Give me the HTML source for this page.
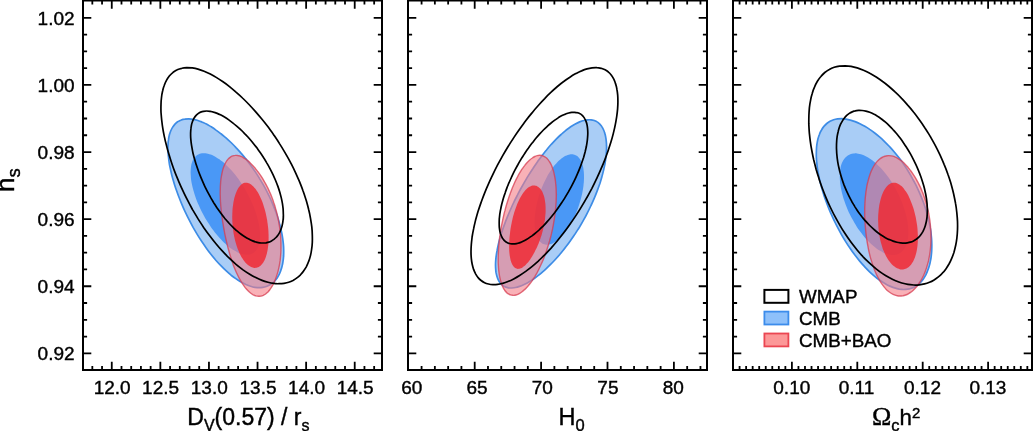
<!DOCTYPE html><html><head><meta charset="utf-8"><style>html,body{margin:0;padding:0;background:#fff;}svg{display:block;}text{font-family:"Liberation Sans",Arial,Helvetica,sans-serif;fill:#000;stroke:#000;stroke-width:0.4px;}</style></head><body>
<svg width="1033" height="431" viewBox="0 0 1033 431">
<rect width="1033" height="431" fill="#fff"/>
<g>
<path d="M283.57 256.09C283.5 257.9 283.3 259.6 283.0 261.3C282.8 263.0 282.5 264.6 282.1 266.1C281.8 267.6 281.3 269.0 280.8 270.4C280.4 271.8 279.8 273.1 279.2 274.3C278.6 275.5 278.0 276.6 277.3 277.7C276.6 278.8 275.8 279.7 275.0 280.7C274.2 281.6 273.3 282.4 272.4 283.1C271.5 283.9 270.6 284.5 269.5 285.1C268.5 285.7 267.5 286.1 266.3 286.5C265.2 286.9 264.0 287.2 262.8 287.4C261.6 287.6 260.3 287.7 259.0 287.7C257.7 287.7 256.3 287.5 254.9 287.3C253.5 287.1 252.0 286.7 250.6 286.2C249.1 285.8 247.5 285.2 245.9 284.5C244.4 283.8 242.8 283.0 241.1 282.1C239.5 281.1 237.8 280.1 236.2 278.9C234.5 277.8 232.8 276.5 231.1 275.2C229.4 273.8 227.7 272.3 226.0 270.7C224.3 269.2 222.6 267.5 220.9 265.7C219.2 264.0 217.5 262.1 215.8 260.2C214.2 258.3 212.5 256.3 210.9 254.2C209.3 252.2 207.7 250.1 206.2 247.9C204.6 245.7 203.1 243.5 201.6 241.3C200.1 239.0 198.6 236.7 197.2 234.4C195.8 232.1 194.5 229.7 193.1 227.4C191.8 225.0 190.5 222.6 189.3 220.2C188.1 217.8 186.9 215.4 185.7 213.0C184.6 210.6 183.5 208.2 182.5 205.8C181.4 203.4 180.4 200.9 179.5 198.5C178.5 196.1 177.6 193.7 176.8 191.3C175.9 188.9 175.1 186.5 174.4 184.2C173.6 181.8 173.0 179.4 172.3 177.1C171.7 174.8 171.2 172.5 170.7 170.2C170.2 167.9 169.7 165.7 169.3 163.5C169.0 161.3 168.7 159.1 168.5 157.0C168.2 154.9 168.1 152.8 168.0 150.8C167.9 148.8 167.9 146.9 168.0 145.0C168.1 143.2 168.2 141.4 168.5 139.7C168.7 138.0 169.0 136.3 169.4 134.8C169.8 133.3 170.3 131.8 170.9 130.5C171.5 129.2 172.1 128.0 172.8 126.9C173.6 125.8 174.4 124.8 175.2 123.9C176.1 123.0 177.0 122.2 178.0 121.6C179.1 120.9 180.1 120.4 181.3 120.0C182.4 119.5 183.6 119.2 184.8 119.1C186.1 118.9 187.4 118.8 188.7 118.8C190.0 118.9 191.4 119.0 192.8 119.3C194.2 119.5 195.7 119.9 197.2 120.3C198.7 120.8 200.2 121.3 201.7 121.9C203.2 122.6 204.8 123.3 206.4 124.1C208.0 124.9 209.6 125.9 211.2 126.8C212.8 127.8 214.4 128.9 216.0 130.1C217.7 131.2 219.3 132.4 221.0 133.8C222.7 135.1 224.3 136.5 226.0 137.9C227.7 139.4 229.3 140.9 231.0 142.5C232.7 144.2 234.4 145.8 236.0 147.6C237.7 149.4 239.4 151.2 241.0 153.1C242.7 155.0 244.3 157.0 246.0 159.1C247.6 161.1 249.2 163.2 250.8 165.4C252.4 167.6 254.0 169.8 255.5 172.1C257.0 174.4 258.5 176.7 259.9 179.1C261.4 181.5 262.8 183.9 264.2 186.4C265.5 188.8 266.8 191.3 268.1 193.8C269.3 196.4 270.5 198.9 271.6 201.4C272.7 203.9 273.7 206.5 274.7 209.0C275.7 211.5 276.6 214.0 277.4 216.5C278.2 219.0 279.0 221.5 279.6 223.9C280.3 226.3 280.9 228.7 281.3 231.0C281.8 233.3 282.3 235.6 282.6 237.9C282.9 240.1 283.2 242.2 283.4 244.3C283.6 246.4 283.7 248.5 283.7 250.4C283.7 252.4 283.7 254.3 283.6 256.1Z" fill="#a9cdf6" stroke="#3d8ce6" stroke-width="1.7"/>
<path d="M260.16 235.68C260.2 236.8 260.1 238.0 260.0 239.0C259.9 240.1 259.8 241.1 259.6 242.1C259.5 243.1 259.2 244.0 259.0 244.9C258.7 245.8 258.4 246.6 258.1 247.4C257.7 248.1 257.3 248.9 256.9 249.5C256.5 250.2 256.0 250.8 255.5 251.3C255.0 251.9 254.4 252.3 253.9 252.8C253.3 253.2 252.7 253.5 252.0 253.8C251.4 254.1 250.7 254.4 250.0 254.5C249.3 254.7 248.5 254.8 247.7 254.8C247.0 254.9 246.2 254.8 245.3 254.7C244.5 254.7 243.6 254.5 242.8 254.3C241.9 254.1 241.0 253.8 240.1 253.4C239.2 253.1 238.2 252.7 237.3 252.2C236.3 251.7 235.4 251.2 234.4 250.6C233.4 250.0 232.4 249.4 231.4 248.7C230.4 248.0 229.4 247.2 228.4 246.4C227.4 245.6 226.4 244.7 225.4 243.8C224.4 242.9 223.4 241.9 222.4 240.9C221.4 239.8 220.3 238.8 219.4 237.7C218.4 236.6 217.4 235.4 216.4 234.2C215.4 233.0 214.4 231.8 213.5 230.5C212.5 229.3 211.6 228.0 210.7 226.7C209.8 225.3 208.9 224.0 208.0 222.6C207.1 221.2 206.3 219.8 205.4 218.4C204.6 217.0 203.8 215.6 203.0 214.1C202.3 212.7 201.5 211.2 200.8 209.7C200.1 208.3 199.4 206.8 198.8 205.3C198.1 203.8 197.5 202.3 196.9 200.9C196.3 199.4 195.8 197.9 195.3 196.5C194.8 195.0 194.3 193.5 193.9 192.1C193.5 190.7 193.1 189.2 192.7 187.8C192.4 186.4 192.1 185.1 191.8 183.7C191.5 182.4 191.3 181.0 191.1 179.7C191.0 178.4 190.8 177.2 190.8 175.9C190.7 174.7 190.6 173.5 190.6 172.3C190.6 171.2 190.7 170.1 190.8 169.0C190.8 167.9 191.0 166.9 191.1 165.9C191.3 164.9 191.5 164.0 191.8 163.1C192.1 162.2 192.4 161.4 192.7 160.6C193.1 159.9 193.5 159.2 193.9 158.5C194.3 157.8 194.8 157.2 195.3 156.7C195.8 156.2 196.3 155.7 196.9 155.3C197.5 154.8 198.1 154.5 198.8 154.2C199.4 153.9 200.1 153.7 200.8 153.5C201.5 153.3 202.3 153.2 203.0 153.2C203.8 153.1 204.6 153.2 205.4 153.3C206.3 153.4 207.1 153.5 208.0 153.7C208.9 154.0 209.8 154.2 210.7 154.6C211.6 154.9 212.5 155.3 213.5 155.8C214.4 156.3 215.4 156.8 216.4 157.4C217.4 158.0 218.4 158.6 219.4 159.3C220.3 160.1 221.4 160.8 222.4 161.6C223.4 162.4 224.4 163.3 225.4 164.2C226.4 165.2 227.4 166.1 228.4 167.2C229.4 168.2 230.4 169.2 231.4 170.3C232.4 171.5 233.4 172.6 234.4 173.8C235.4 175.0 236.3 176.2 237.3 177.5C238.2 178.7 239.2 180.0 240.1 181.4C241.0 182.7 241.9 184.0 242.8 185.4C243.6 186.8 244.5 188.2 245.3 189.6C246.2 191.0 247.0 192.5 247.7 193.9C248.5 195.3 249.3 196.8 250.0 198.3C250.7 199.7 251.4 201.2 252.0 202.7C252.7 204.2 253.3 205.7 253.9 207.1C254.4 208.6 255.0 210.1 255.5 211.6C256.0 213.0 256.5 214.5 256.9 215.9C257.3 217.3 257.7 218.8 258.1 220.2C258.4 221.6 258.7 223.0 259.0 224.3C259.2 225.7 259.5 227.0 259.6 228.3C259.8 229.6 259.9 230.9 260.0 232.1C260.1 233.3 260.2 234.5 260.2 235.7Z" fill="rgb(74,152,246)" stroke="none"/>
<path d="M280.95 250.42C280.9 252.3 280.8 254.1 280.6 255.8C280.5 257.6 280.3 259.3 280.1 260.9C279.8 262.5 279.6 264.1 279.3 265.6C279.0 267.2 278.7 268.6 278.3 270.1C278.0 271.5 277.6 272.8 277.2 274.1C276.8 275.4 276.4 276.7 275.9 277.9C275.5 279.1 275.0 280.3 274.5 281.4C274.1 282.5 273.6 283.5 273.0 284.6C272.5 285.6 271.9 286.5 271.4 287.4C270.8 288.3 270.2 289.2 269.6 290.0C269.0 290.8 268.3 291.5 267.7 292.2C267.0 292.8 266.3 293.4 265.6 294.0C264.9 294.5 264.1 294.9 263.4 295.3C262.6 295.6 261.8 295.9 261.0 296.1C260.2 296.2 259.4 296.3 258.5 296.3C257.7 296.3 256.8 296.1 255.9 295.9C255.0 295.6 254.1 295.2 253.2 294.8C252.3 294.3 251.4 293.7 250.5 293.0C249.6 292.3 248.7 291.5 247.8 290.5C246.9 289.6 245.9 288.5 245.0 287.4C244.2 286.3 243.3 285.0 242.4 283.7C241.5 282.4 240.7 280.9 239.9 279.4C239.0 278.0 238.2 276.4 237.5 274.8C236.7 273.1 235.9 271.4 235.2 269.7C234.5 268.0 233.8 266.2 233.1 264.4C232.5 262.5 231.8 260.7 231.2 258.8C230.6 257.0 230.0 255.1 229.5 253.2C228.9 251.3 228.4 249.3 227.9 247.4C227.4 245.5 226.9 243.6 226.5 241.6C226.0 239.7 225.6 237.7 225.2 235.8C224.8 233.9 224.4 231.9 224.1 230.0C223.7 228.0 223.4 226.1 223.1 224.1C222.7 222.1 222.4 220.2 222.2 218.2C221.9 216.2 221.7 214.3 221.4 212.3C221.2 210.3 221.0 208.3 220.8 206.3C220.7 204.4 220.5 202.4 220.4 200.4C220.3 198.4 220.3 196.5 220.2 194.5C220.2 192.6 220.2 190.7 220.3 188.8C220.3 186.9 220.4 185.0 220.6 183.2C220.7 181.4 220.9 179.6 221.1 178.0C221.4 176.3 221.7 174.6 222.0 173.1C222.3 171.5 222.7 170.0 223.1 168.6C223.6 167.2 224.1 165.9 224.6 164.8C225.1 163.6 225.7 162.5 226.3 161.5C226.9 160.5 227.6 159.7 228.3 158.9C228.9 158.2 229.7 157.6 230.4 157.1C231.2 156.5 231.9 156.2 232.7 155.9C233.5 155.6 234.3 155.4 235.2 155.4C236.0 155.3 236.8 155.3 237.7 155.5C238.5 155.6 239.4 155.8 240.3 156.1C241.1 156.5 242.0 156.9 242.8 157.3C243.7 157.8 244.6 158.3 245.4 158.9C246.3 159.5 247.1 160.2 248.0 160.9C248.8 161.6 249.7 162.4 250.5 163.2C251.3 164.0 252.2 164.9 253.0 165.8C253.8 166.7 254.7 167.6 255.5 168.6C256.3 169.6 257.1 170.7 257.9 171.7C258.7 172.8 259.5 173.9 260.4 175.1C261.2 176.3 262.0 177.5 262.8 178.8C263.5 180.1 264.3 181.4 265.1 182.8C265.9 184.2 266.7 185.7 267.4 187.2C268.2 188.7 268.9 190.3 269.6 191.9C270.4 193.6 271.1 195.3 271.8 197.0C272.4 198.8 273.1 200.6 273.7 202.5C274.4 204.3 275.0 206.2 275.5 208.2C276.1 210.1 276.6 212.1 277.1 214.2C277.6 216.2 278.1 218.2 278.5 220.3C278.9 222.3 279.2 224.4 279.5 226.5C279.8 228.6 280.1 230.6 280.3 232.7C280.5 234.7 280.7 236.8 280.8 238.8C280.9 240.8 281.0 242.8 281.0 244.7C281.0 246.7 281.0 248.6 280.9 250.4Z" fill="rgb(245,125,135)" fill-opacity="0.6" stroke="rgba(215,60,80,0.75)" stroke-width="1.4"/>
<path d="M268.61 236.75C268.6 237.9 268.6 239.1 268.6 240.3C268.5 241.4 268.5 242.6 268.4 243.7C268.3 244.8 268.2 245.9 268.0 247.0C267.9 248.0 267.8 249.1 267.6 250.1C267.4 251.1 267.2 252.1 267.0 253.0C266.7 254.0 266.5 254.9 266.2 255.7C266.0 256.6 265.7 257.4 265.4 258.2C265.0 259.0 264.7 259.7 264.4 260.4C264.0 261.1 263.6 261.8 263.3 262.4C262.9 263.0 262.5 263.5 262.1 264.0C261.7 264.5 261.2 265.0 260.8 265.4C260.4 265.8 259.9 266.1 259.4 266.4C259.0 266.7 258.5 267.0 258.0 267.2C257.5 267.4 257.0 267.6 256.5 267.7C256.0 267.8 255.5 267.8 255.0 267.9C254.5 267.9 254.0 267.8 253.5 267.7C253.0 267.6 252.4 267.5 251.9 267.3C251.4 267.1 250.8 266.9 250.3 266.6C249.8 266.3 249.2 266.0 248.7 265.6C248.2 265.2 247.6 264.8 247.1 264.3C246.6 263.8 246.0 263.3 245.5 262.7C245.0 262.1 244.5 261.5 244.0 260.8C243.5 260.1 243.0 259.4 242.5 258.6C242.0 257.8 241.5 257.0 241.0 256.2C240.6 255.3 240.1 254.4 239.6 253.5C239.2 252.5 238.8 251.5 238.4 250.5C237.9 249.5 237.5 248.5 237.2 247.4C236.8 246.3 236.4 245.2 236.1 244.1C235.7 243.0 235.4 241.8 235.1 240.6C234.8 239.5 234.6 238.3 234.3 237.1C234.1 235.9 233.8 234.6 233.6 233.4C233.4 232.2 233.2 231.0 233.1 229.8C232.9 228.5 232.8 227.3 232.7 226.1C232.6 224.9 232.5 223.7 232.4 222.5C232.3 221.3 232.3 220.1 232.3 218.9C232.2 217.7 232.2 216.5 232.3 215.4C232.3 214.2 232.3 213.1 232.4 212.0C232.4 210.8 232.5 209.7 232.6 208.7C232.7 207.6 232.8 206.5 233.0 205.5C233.1 204.5 233.3 203.4 233.4 202.4C233.6 201.5 233.8 200.5 234.0 199.5C234.2 198.6 234.4 197.7 234.7 196.8C234.9 195.9 235.2 195.1 235.5 194.2C235.8 193.4 236.1 192.6 236.4 191.9C236.7 191.1 237.0 190.4 237.4 189.7C237.7 189.0 238.1 188.4 238.5 187.8C238.9 187.2 239.3 186.7 239.7 186.2C240.1 185.7 240.6 185.2 241.0 184.8C241.5 184.4 241.9 184.1 242.4 183.8C242.9 183.5 243.4 183.3 243.9 183.1C244.4 182.9 244.9 182.8 245.4 182.8C246.0 182.7 246.5 182.7 247.0 182.8C247.6 182.9 248.1 183.0 248.7 183.2C249.2 183.4 249.8 183.7 250.3 184.0C250.9 184.4 251.4 184.8 251.9 185.2C252.5 185.6 253.0 186.2 253.6 186.7C254.1 187.3 254.6 187.9 255.2 188.5C255.7 189.2 256.2 189.9 256.7 190.7C257.2 191.4 257.7 192.2 258.2 193.1C258.7 193.9 259.1 194.8 259.6 195.7C260.1 196.6 260.5 197.6 260.9 198.6C261.4 199.6 261.8 200.6 262.2 201.6C262.6 202.6 262.9 203.7 263.3 204.8C263.7 205.9 264.0 207.0 264.3 208.1C264.7 209.2 265.0 210.4 265.3 211.5C265.6 212.7 265.9 213.9 266.1 215.0C266.4 216.2 266.6 217.4 266.8 218.6C267.1 219.8 267.3 221.0 267.4 222.2C267.6 223.4 267.8 224.7 267.9 225.9C268.1 227.1 268.2 228.3 268.3 229.5C268.4 230.7 268.5 232.0 268.5 233.2C268.6 234.4 268.6 235.6 268.6 236.7Z" fill="rgb(240,42,52)" fill-opacity="0.85" stroke="none"/>
<path d="M312.30 242.57C312.2 245.0 312.0 247.3 311.6 249.5C311.3 251.8 310.9 253.9 310.4 255.9C309.9 257.9 309.3 259.8 308.6 261.6C308.0 263.4 307.2 265.0 306.4 266.6C305.5 268.2 304.6 269.6 303.6 271.0C302.7 272.4 301.6 273.6 300.5 274.8C299.4 275.9 298.2 277.0 296.9 277.9C295.7 278.8 294.4 279.6 293.0 280.4C291.6 281.1 290.2 281.7 288.7 282.2C287.2 282.7 285.6 283.0 284.0 283.3C282.4 283.6 280.7 283.7 279.0 283.7C277.3 283.8 275.5 283.7 273.6 283.4C271.8 283.2 269.9 282.8 268.0 282.3C266.0 281.8 264.0 281.2 262.0 280.4C259.9 279.6 257.9 278.7 255.8 277.6C253.6 276.6 251.5 275.4 249.3 274.0C247.1 272.7 244.9 271.2 242.7 269.6C240.5 267.9 238.3 266.2 236.0 264.3C233.8 262.4 231.5 260.4 229.3 258.2C227.1 256.1 224.9 253.8 222.7 251.4C220.5 249.1 218.3 246.6 216.2 244.0C214.0 241.5 211.9 238.8 209.9 236.1C207.8 233.3 205.8 230.5 203.8 227.7C201.9 224.8 200.0 221.9 198.1 218.9C196.3 215.9 194.5 212.9 192.7 209.9C191.0 206.8 189.3 203.8 187.8 200.7C186.2 197.6 184.6 194.5 183.2 191.4C181.7 188.3 180.3 185.2 179.0 182.1C177.7 179.0 176.4 175.9 175.2 172.9C174.0 169.8 172.9 166.7 171.9 163.7C170.8 160.6 169.9 157.6 169.0 154.6C168.1 151.6 167.2 148.6 166.5 145.6C165.7 142.7 165.0 139.8 164.4 136.9C163.8 134.0 163.2 131.2 162.8 128.4C162.3 125.6 162.0 122.8 161.7 120.1C161.4 117.4 161.2 114.7 161.0 112.2C160.9 109.6 160.9 107.0 161.0 104.6C161.0 102.2 161.2 99.8 161.5 97.5C161.7 95.3 162.1 93.1 162.6 91.0C163.0 89.0 163.6 87.0 164.3 85.2C164.9 83.4 165.7 81.7 166.6 80.1C167.5 78.5 168.5 77.1 169.5 75.8C170.6 74.5 171.8 73.3 173.1 72.3C174.4 71.4 175.7 70.5 177.2 69.8C178.6 69.1 180.2 68.6 181.8 68.3C183.4 67.9 185.1 67.7 186.8 67.6C188.6 67.6 190.4 67.7 192.3 67.9C194.1 68.2 196.1 68.6 198.0 69.1C200.0 69.7 202.0 70.4 204.1 71.2C206.1 72.0 208.2 72.9 210.3 74.0C212.4 75.1 214.5 76.3 216.6 77.6C218.7 78.9 220.9 80.3 223.0 81.8C225.2 83.3 227.4 84.9 229.5 86.6C231.7 88.4 233.9 90.2 236.0 92.1C238.2 94.0 240.4 95.9 242.5 98.0C244.7 100.1 246.8 102.2 249.0 104.5C251.1 106.7 253.2 109.0 255.3 111.4C257.4 113.8 259.5 116.3 261.6 118.8C263.7 121.3 265.8 124.0 267.8 126.6C269.8 129.3 271.8 132.1 273.8 134.9C275.7 137.7 277.7 140.6 279.5 143.6C281.4 146.5 283.2 149.5 285.0 152.6C286.8 155.6 288.5 158.7 290.2 161.8C291.8 165.0 293.4 168.1 294.9 171.3C296.4 174.5 297.8 177.7 299.2 180.9C300.5 184.1 301.8 187.3 302.9 190.5C304.1 193.7 305.1 196.9 306.1 200.0C307.0 203.2 307.9 206.3 308.6 209.3C309.4 212.4 310.0 215.4 310.5 218.3C311.0 221.2 311.5 224.1 311.8 226.9C312.1 229.7 312.3 232.4 312.3 235.0C312.4 237.6 312.4 240.2 312.3 242.6Z" fill="none" stroke="#000" stroke-width="1.7"/>
<path d="M283.26 218.06C283.2 219.5 283.0 220.9 282.8 222.2C282.6 223.6 282.3 224.8 282.0 226.1C281.7 227.3 281.3 228.4 280.9 229.5C280.5 230.6 280.1 231.6 279.6 232.5C279.0 233.5 278.5 234.4 277.9 235.2C277.3 236.0 276.7 236.8 276.0 237.5C275.3 238.2 274.6 238.8 273.9 239.4C273.1 240.0 272.3 240.5 271.5 240.9C270.6 241.4 269.8 241.8 268.9 242.1C268.0 242.4 267.0 242.6 266.0 242.8C265.0 242.9 264.0 243.0 263.0 243.0C261.9 243.0 260.8 243.0 259.7 242.8C258.6 242.7 257.4 242.4 256.2 242.1C255.0 241.8 253.8 241.4 252.6 240.9C251.3 240.4 250.0 239.8 248.8 239.1C247.5 238.5 246.1 237.7 244.8 236.8C243.5 236.0 242.1 235.1 240.8 234.0C239.4 233.0 238.1 231.9 236.7 230.7C235.4 229.5 234.0 228.3 232.6 226.9C231.3 225.6 229.9 224.2 228.6 222.7C227.3 221.3 226.0 219.7 224.7 218.2C223.4 216.6 222.1 215.0 220.9 213.3C219.7 211.6 218.5 209.9 217.3 208.2C216.1 206.4 215.0 204.6 213.8 202.9C212.7 201.1 211.7 199.2 210.6 197.4C209.6 195.6 208.6 193.7 207.6 191.9C206.6 190.0 205.7 188.1 204.8 186.3C203.9 184.4 203.1 182.5 202.3 180.7C201.5 178.8 200.7 176.9 200.0 175.1C199.2 173.2 198.5 171.4 197.9 169.5C197.2 167.7 196.6 165.8 196.0 164.0C195.4 162.2 194.9 160.4 194.4 158.6C193.9 156.7 193.4 155.0 193.0 153.2C192.6 151.4 192.3 149.7 192.0 147.9C191.7 146.2 191.4 144.5 191.2 142.8C191.0 141.2 190.8 139.5 190.7 137.9C190.6 136.3 190.6 134.8 190.6 133.2C190.7 131.7 190.7 130.3 190.9 128.9C191.0 127.5 191.3 126.2 191.5 124.9C191.8 123.6 192.2 122.4 192.6 121.3C193.0 120.2 193.5 119.2 194.0 118.2C194.6 117.3 195.2 116.4 195.9 115.6C196.5 114.9 197.3 114.2 198.1 113.6C198.9 113.0 199.7 112.5 200.6 112.1C201.5 111.8 202.5 111.5 203.5 111.3C204.5 111.1 205.5 111.0 206.6 111.0C207.7 111.0 208.8 111.1 210.0 111.3C211.1 111.5 212.3 111.7 213.5 112.1C214.7 112.4 216.0 112.9 217.2 113.4C218.4 113.9 219.7 114.5 221.0 115.1C222.3 115.8 223.6 116.5 224.9 117.3C226.2 118.1 227.5 119.0 228.8 119.9C230.1 120.8 231.4 121.8 232.7 122.8C234.1 123.9 235.4 125.0 236.7 126.1C238.0 127.2 239.4 128.4 240.7 129.7C242.0 130.9 243.3 132.2 244.6 133.6C246.0 134.9 247.3 136.4 248.6 137.8C249.9 139.3 251.2 140.8 252.4 142.3C253.7 143.9 255.0 145.5 256.3 147.1C257.5 148.8 258.8 150.5 260.0 152.2C261.2 153.9 262.4 155.7 263.5 157.5C264.7 159.3 265.8 161.2 266.9 163.1C268.0 164.9 269.1 166.9 270.1 168.8C271.1 170.7 272.1 172.7 273.0 174.6C273.9 176.6 274.8 178.6 275.6 180.5C276.4 182.5 277.2 184.5 277.9 186.4C278.6 188.4 279.2 190.3 279.8 192.3C280.3 194.2 280.8 196.1 281.3 197.9C281.7 199.8 282.1 201.6 282.4 203.4C282.7 205.2 282.9 206.9 283.1 208.6C283.2 210.3 283.3 211.9 283.3 213.5C283.4 215.1 283.4 216.6 283.3 218.1Z" fill="none" stroke="#000" stroke-width="1.7"/>
</g>
<g>
<path d="M606.56 146.58C606.6 148.3 606.5 150.1 606.4 151.9C606.3 153.8 606.1 155.7 605.9 157.6C605.6 159.6 605.3 161.6 605.0 163.7C604.6 165.8 604.1 167.9 603.6 170.1C603.1 172.3 602.5 174.5 601.9 176.8C601.3 179.1 600.5 181.4 599.8 183.8C599.0 186.1 598.1 188.5 597.2 190.9C596.3 193.3 595.4 195.7 594.3 198.2C593.3 200.6 592.2 203.1 591.0 205.5C589.9 207.9 588.7 210.4 587.4 212.8C586.2 215.3 584.9 217.7 583.5 220.1C582.2 222.5 580.8 224.9 579.4 227.2C577.9 229.5 576.5 231.8 575.0 234.1C573.5 236.3 572.0 238.6 570.4 240.7C568.9 242.9 567.3 245.0 565.7 247.0C564.2 249.1 562.6 251.1 561.0 253.0C559.4 254.9 557.8 256.8 556.2 258.5C554.6 260.3 552.9 262.0 551.3 263.7C549.7 265.3 548.1 266.9 546.5 268.4C544.9 269.9 543.3 271.3 541.8 272.6C540.2 274.0 538.6 275.2 537.1 276.4C535.5 277.6 534.0 278.7 532.5 279.7C530.9 280.7 529.4 281.7 528.0 282.5C526.5 283.3 525.1 284.1 523.6 284.7C522.2 285.4 520.8 286.0 519.5 286.4C518.1 286.9 516.8 287.3 515.5 287.5C514.2 287.8 513.0 287.9 511.8 288.0C510.6 288.0 509.5 288.0 508.4 287.8C507.3 287.6 506.3 287.3 505.3 286.9C504.3 286.5 503.4 286.0 502.6 285.4C501.7 284.8 501.0 284.0 500.3 283.1C499.6 282.3 498.9 281.3 498.4 280.2C497.8 279.1 497.4 277.9 497.0 276.6C496.6 275.3 496.3 273.9 496.0 272.4C495.8 270.9 495.7 269.3 495.6 267.6C495.5 265.9 495.5 264.2 495.6 262.3C495.7 260.5 495.9 258.6 496.1 256.6C496.4 254.6 496.7 252.6 497.1 250.5C497.4 248.5 497.9 246.3 498.4 244.1C498.9 242.0 499.5 239.8 500.2 237.5C500.8 235.3 501.5 233.0 502.3 230.8C503.0 228.5 503.8 226.2 504.7 223.9C505.5 221.6 506.4 219.3 507.4 216.9C508.3 214.6 509.3 212.3 510.3 210.0C511.4 207.6 512.4 205.3 513.5 203.0C514.6 200.6 515.8 198.3 517.0 196.0C518.1 193.7 519.4 191.3 520.6 189.0C521.9 186.7 523.2 184.4 524.5 182.1C525.8 179.9 527.1 177.6 528.5 175.4C529.9 173.1 531.3 170.9 532.8 168.7C534.2 166.5 535.7 164.3 537.2 162.2C538.7 160.1 540.3 158.0 541.8 155.9C543.4 153.9 544.9 151.9 546.5 150.0C548.1 148.0 549.7 146.1 551.3 144.3C553.0 142.5 554.6 140.8 556.2 139.1C557.8 137.5 559.5 135.9 561.1 134.5C562.7 133.0 564.3 131.6 565.9 130.3C567.5 129.1 569.1 127.9 570.7 126.8C572.2 125.8 573.8 124.8 575.3 124.0C576.8 123.2 578.2 122.5 579.6 121.9C581.1 121.3 582.5 120.8 583.8 120.5C585.1 120.1 586.4 119.9 587.6 119.8C588.9 119.7 590.0 119.7 591.1 119.8C592.3 119.9 593.3 120.2 594.3 120.5C595.3 120.9 596.3 121.3 597.2 121.9C598.0 122.4 598.8 123.1 599.6 123.8C600.4 124.6 601.1 125.4 601.7 126.4C602.3 127.3 602.9 128.4 603.4 129.5C603.9 130.6 604.4 131.8 604.7 133.1C605.1 134.3 605.5 135.7 605.7 137.1C606.0 138.6 606.2 140.1 606.3 141.6C606.5 143.2 606.5 144.9 606.6 146.6Z" fill="#a9cdf6" stroke="#3d8ce6" stroke-width="1.7"/>
<path d="M584.01 176.89C584.0 178.0 584.0 179.2 583.9 180.4C583.9 181.6 583.8 182.8 583.6 184.0C583.5 185.3 583.4 186.5 583.2 187.8C583.0 189.1 582.8 190.4 582.5 191.7C582.3 193.0 582.0 194.3 581.7 195.6C581.4 196.9 581.1 198.2 580.7 199.5C580.3 200.8 579.9 202.2 579.5 203.5C579.1 204.8 578.7 206.1 578.2 207.4C577.8 208.7 577.3 210.0 576.8 211.2C576.3 212.5 575.7 213.8 575.2 215.0C574.6 216.2 574.0 217.5 573.5 218.6C572.9 219.8 572.3 221.0 571.6 222.2C571.0 223.3 570.4 224.4 569.7 225.5C569.1 226.6 568.4 227.6 567.7 228.6C567.1 229.6 566.4 230.6 565.7 231.5C565.0 232.5 564.3 233.3 563.6 234.2C562.9 235.0 562.1 235.8 561.4 236.6C560.7 237.3 560.0 238.1 559.3 238.7C558.6 239.4 557.8 240.0 557.1 240.5C556.4 241.1 555.7 241.6 555.0 242.1C554.3 242.5 553.6 242.9 552.9 243.2C552.2 243.6 551.5 243.9 550.8 244.1C550.1 244.3 549.5 244.5 548.8 244.6C548.2 244.7 547.5 244.8 546.9 244.8C546.3 244.8 545.7 244.7 545.1 244.6C544.5 244.5 543.9 244.3 543.4 244.1C542.8 243.9 542.3 243.6 541.8 243.2C541.3 242.9 540.8 242.5 540.3 242.1C539.9 241.6 539.4 241.1 539.0 240.5C538.6 240.0 538.2 239.4 537.8 238.7C537.5 238.1 537.2 237.3 536.8 236.6C536.5 235.8 536.3 235.0 536.0 234.2C535.8 233.3 535.6 232.5 535.4 231.5C535.2 230.6 535.0 229.6 534.9 228.6C534.8 227.6 534.7 226.6 534.6 225.5C534.6 224.4 534.5 223.3 534.5 222.2C534.5 221.0 534.6 219.8 534.6 218.6C534.7 217.5 534.8 216.2 534.9 215.0C535.0 213.8 535.2 212.5 535.4 211.2C535.6 210.0 535.8 208.7 536.0 207.4C536.3 206.1 536.5 204.8 536.8 203.5C537.2 202.2 537.5 200.8 537.8 199.5C538.2 198.2 538.6 196.9 539.0 195.6C539.4 194.3 539.9 193.0 540.3 191.7C540.8 190.4 541.3 189.1 541.8 187.8C542.3 186.5 542.8 185.3 543.4 184.0C543.9 182.8 544.5 181.6 545.1 180.4C545.7 179.2 546.3 178.0 546.9 176.9C547.5 175.8 548.2 174.6 548.8 173.6C549.5 172.5 550.1 171.4 550.8 170.4C551.5 169.4 552.2 168.4 552.9 167.5C553.6 166.6 554.3 165.7 555.0 164.8C555.7 164.0 556.4 163.2 557.1 162.4C557.8 161.7 558.6 161.0 559.3 160.3C560.0 159.7 560.7 159.1 561.4 158.5C562.1 157.9 562.9 157.4 563.6 157.0C564.3 156.5 565.0 156.1 565.7 155.8C566.4 155.5 567.1 155.2 567.7 154.9C568.4 154.7 569.1 154.5 569.7 154.4C570.4 154.3 571.0 154.3 571.6 154.3C572.3 154.3 572.9 154.3 573.5 154.4C574.0 154.5 574.6 154.7 575.2 154.9C575.7 155.2 576.3 155.5 576.8 155.8C577.3 156.1 577.8 156.5 578.2 157.0C578.7 157.4 579.1 157.9 579.5 158.5C579.9 159.1 580.3 159.7 580.7 160.3C581.1 161.0 581.4 161.7 581.7 162.4C582.0 163.2 582.3 164.0 582.5 164.8C582.8 165.7 583.0 166.6 583.2 167.5C583.4 168.4 583.5 169.4 583.6 170.4C583.8 171.4 583.9 172.5 583.9 173.6C584.0 174.6 584.0 175.8 584.0 176.9Z" fill="rgb(74,152,246)" stroke="none"/>
<path d="M556.26 193.47C556.3 195.2 556.3 197.1 556.2 198.9C556.2 200.8 556.1 202.7 555.9 204.6C555.8 206.6 555.6 208.5 555.4 210.5C555.2 212.5 555.0 214.5 554.7 216.5C554.4 218.5 554.1 220.6 553.7 222.6C553.4 224.7 553.0 226.7 552.6 228.7C552.1 230.8 551.7 232.8 551.2 234.8C550.7 236.9 550.1 238.9 549.6 240.9C549.0 242.8 548.5 244.8 547.8 246.7C547.2 248.7 546.6 250.6 545.9 252.4C545.3 254.3 544.6 256.1 543.9 257.9C543.2 259.7 542.5 261.4 541.7 263.1C541.0 264.8 540.2 266.4 539.4 268.0C538.7 269.6 537.9 271.1 537.1 272.6C536.3 274.0 535.5 275.4 534.7 276.8C533.8 278.1 533.0 279.4 532.2 280.6C531.4 281.8 530.5 283.0 529.7 284.0C528.8 285.1 528.0 286.1 527.2 287.1C526.3 288.0 525.5 288.9 524.6 289.6C523.8 290.4 523.0 291.1 522.1 291.8C521.3 292.4 520.5 293.0 519.7 293.4C518.8 293.9 518.0 294.3 517.2 294.6C516.4 294.9 515.6 295.1 514.9 295.2C514.1 295.3 513.3 295.4 512.6 295.3C511.8 295.3 511.1 295.1 510.4 294.9C509.7 294.7 509.0 294.3 508.4 293.9C507.7 293.5 507.1 293.0 506.5 292.4C505.8 291.8 505.3 291.1 504.7 290.3C504.2 289.5 503.6 288.7 503.2 287.7C502.7 286.8 502.2 285.7 501.8 284.6C501.4 283.5 501.0 282.3 500.7 281.0C500.3 279.8 500.0 278.4 499.7 277.0C499.4 275.6 499.2 274.1 499.0 272.6C498.8 271.1 498.6 269.5 498.5 267.8C498.4 266.2 498.3 264.5 498.2 262.8C498.2 261.0 498.2 259.2 498.2 257.4C498.2 255.6 498.3 253.8 498.4 251.9C498.5 250.0 498.6 248.1 498.7 246.2C498.9 244.3 499.1 242.3 499.3 240.3C499.5 238.4 499.8 236.4 500.1 234.4C500.4 232.4 500.7 230.4 501.0 228.4C501.4 226.4 501.8 224.4 502.2 222.4C502.6 220.4 503.0 218.3 503.5 216.3C503.9 214.3 504.4 212.3 505.0 210.4C505.5 208.4 506.0 206.4 506.6 204.5C507.2 202.5 507.8 200.6 508.4 198.7C509.1 196.8 509.7 194.9 510.4 193.0C511.1 191.2 511.8 189.4 512.5 187.6C513.2 185.9 514.0 184.2 514.7 182.5C515.5 180.8 516.3 179.2 517.1 177.7C517.9 176.1 518.7 174.6 519.5 173.2C520.3 171.8 521.2 170.5 522.0 169.2C522.9 167.9 523.7 166.7 524.6 165.6C525.4 164.5 526.3 163.5 527.2 162.5C528.0 161.6 528.9 160.7 529.7 160.0C530.6 159.2 531.5 158.5 532.3 158.0C533.1 157.4 534.0 156.9 534.8 156.5C535.6 156.1 536.4 155.8 537.2 155.6C538.0 155.4 538.8 155.3 539.6 155.3C540.3 155.3 541.1 155.4 541.8 155.5C542.5 155.7 543.2 155.9 543.9 156.3C544.6 156.6 545.2 157.0 545.9 157.5C546.5 158.0 547.1 158.6 547.7 159.3C548.3 159.9 548.8 160.7 549.3 161.5C549.9 162.3 550.4 163.2 550.9 164.1C551.3 165.1 551.8 166.1 552.2 167.2C552.6 168.3 553.0 169.5 553.4 170.7C553.7 171.9 554.0 173.2 554.3 174.6C554.6 175.9 554.9 177.3 555.1 178.8C555.4 180.3 555.6 181.8 555.7 183.4C555.9 185.0 556.0 186.6 556.1 188.3C556.2 190.0 556.2 191.7 556.3 193.5Z" fill="rgb(245,125,135)" fill-opacity="0.6" stroke="rgba(215,60,80,0.75)" stroke-width="1.4"/>
<path d="M545.63 208.80C545.6 209.9 545.6 211.0 545.6 212.2C545.5 213.4 545.5 214.5 545.3 215.7C545.2 216.9 545.1 218.2 545.0 219.4C544.8 220.6 544.6 221.8 544.4 223.0C544.2 224.3 544.0 225.5 543.7 226.7C543.4 227.9 543.2 229.1 542.9 230.3C542.6 231.5 542.2 232.7 541.9 233.9C541.6 235.0 541.2 236.2 540.8 237.3C540.5 238.4 540.1 239.5 539.7 240.6C539.3 241.7 538.9 242.7 538.5 243.8C538.0 244.8 537.6 245.8 537.2 246.8C536.7 247.7 536.3 248.7 535.8 249.6C535.4 250.5 534.9 251.4 534.5 252.3C534.0 253.1 533.5 254.0 533.1 254.8C532.6 255.6 532.1 256.4 531.6 257.2C531.1 257.9 530.7 258.7 530.2 259.4C529.7 260.1 529.2 260.8 528.7 261.4C528.2 262.1 527.7 262.7 527.1 263.3C526.6 263.8 526.1 264.4 525.6 264.9C525.1 265.4 524.6 265.9 524.0 266.3C523.5 266.7 523.0 267.1 522.5 267.4C522.0 267.8 521.4 268.0 520.9 268.3C520.4 268.5 519.9 268.7 519.4 268.8C518.9 268.9 518.4 268.9 517.9 268.9C517.4 268.9 517.0 268.8 516.5 268.6C516.1 268.5 515.6 268.3 515.2 268.0C514.8 267.7 514.3 267.4 514.0 267.0C513.6 266.5 513.2 266.1 512.9 265.5C512.5 265.0 512.2 264.4 511.9 263.8C511.6 263.1 511.3 262.4 511.1 261.7C510.8 260.9 510.6 260.1 510.4 259.3C510.2 258.4 510.0 257.5 509.9 256.6C509.7 255.7 509.6 254.7 509.5 253.8C509.4 252.8 509.3 251.8 509.2 250.7C509.2 249.7 509.2 248.6 509.1 247.5C509.1 246.5 509.1 245.4 509.2 244.3C509.2 243.1 509.2 242.0 509.3 240.9C509.4 239.7 509.4 238.6 509.5 237.4C509.6 236.3 509.8 235.1 509.9 233.9C510.0 232.8 510.2 231.6 510.3 230.4C510.5 229.2 510.7 228.0 510.9 226.8C511.1 225.6 511.3 224.4 511.6 223.2C511.8 222.0 512.1 220.8 512.4 219.6C512.6 218.4 512.9 217.2 513.2 216.1C513.6 214.9 513.9 213.7 514.2 212.5C514.6 211.4 515.0 210.2 515.4 209.1C515.7 207.9 516.2 206.8 516.6 205.7C517.0 204.6 517.4 203.5 517.9 202.5C518.4 201.5 518.8 200.5 519.3 199.5C519.8 198.5 520.3 197.6 520.8 196.7C521.3 195.8 521.8 195.0 522.3 194.2C522.9 193.4 523.4 192.7 523.9 192.0C524.5 191.3 525.0 190.6 525.5 190.1C526.1 189.5 526.6 189.0 527.1 188.5C527.7 188.0 528.2 187.6 528.7 187.3C529.3 186.9 529.8 186.6 530.3 186.4C530.8 186.1 531.3 185.9 531.8 185.8C532.3 185.6 532.8 185.5 533.3 185.5C533.8 185.5 534.3 185.5 534.8 185.5C535.2 185.6 535.7 185.7 536.1 185.8C536.6 185.9 537.0 186.1 537.4 186.4C537.8 186.6 538.2 186.9 538.6 187.2C539.0 187.5 539.4 187.8 539.8 188.2C540.2 188.6 540.5 189.0 540.9 189.5C541.2 190.0 541.5 190.5 541.9 191.1C542.2 191.6 542.5 192.2 542.8 192.9C543.1 193.5 543.3 194.2 543.6 194.9C543.8 195.6 544.1 196.4 544.3 197.2C544.5 198.0 544.7 198.9 544.8 199.7C545.0 200.6 545.1 201.6 545.2 202.5C545.4 203.5 545.5 204.5 545.5 205.6C545.6 206.6 545.6 207.7 545.6 208.8Z" fill="rgb(240,42,52)" fill-opacity="0.85" stroke="none"/>
<path d="M617.91 101.81C617.9 104.1 617.8 106.5 617.6 108.9C617.4 111.4 617.1 113.9 616.7 116.6C616.3 119.2 615.9 121.9 615.3 124.6C614.8 127.4 614.1 130.2 613.4 133.1C612.7 135.9 611.9 138.9 611.0 141.8C610.1 144.8 609.1 147.8 608.1 150.8C607.0 153.9 605.9 157.0 604.7 160.1C603.5 163.2 602.2 166.3 600.8 169.4C599.5 172.6 598.0 175.7 596.5 178.9C595.1 182.0 593.5 185.2 591.9 188.3C590.2 191.4 588.6 194.6 586.8 197.7C585.1 200.8 583.3 203.8 581.4 206.9C579.6 209.9 577.7 212.9 575.7 215.9C573.8 218.8 571.8 221.7 569.8 224.5C567.8 227.4 565.8 230.1 563.7 232.8C561.6 235.5 559.5 238.2 557.4 240.7C555.3 243.2 553.2 245.7 551.1 248.1C548.9 250.4 546.8 252.7 544.7 254.9C542.5 257.0 540.4 259.1 538.3 261.1C536.1 263.0 534.0 264.9 531.9 266.6C529.8 268.3 527.7 269.9 525.7 271.4C523.6 272.9 521.6 274.3 519.6 275.5C517.6 276.8 515.6 277.9 513.7 278.9C511.8 279.9 509.9 280.8 508.0 281.5C506.2 282.3 504.4 282.9 502.7 283.3C500.9 283.8 499.2 284.2 497.6 284.4C496.0 284.6 494.4 284.7 492.9 284.6C491.4 284.6 489.9 284.4 488.5 284.0C487.2 283.7 485.8 283.3 484.6 282.7C483.4 282.1 482.2 281.4 481.1 280.5C480.0 279.7 479.0 278.7 478.1 277.6C477.2 276.5 476.4 275.2 475.6 273.8C474.9 272.5 474.2 271.0 473.6 269.4C473.1 267.8 472.6 266.0 472.2 264.2C471.8 262.3 471.5 260.4 471.3 258.3C471.1 256.2 471.0 254.0 471.0 251.8C471.0 249.5 471.1 247.1 471.3 244.7C471.5 242.2 471.8 239.6 472.1 237.0C472.5 234.4 473.0 231.7 473.6 228.9C474.1 226.1 474.8 223.3 475.5 220.4C476.3 217.5 477.1 214.5 478.0 211.5C479.0 208.5 480.0 205.5 481.1 202.4C482.2 199.4 483.3 196.3 484.6 193.1C485.8 190.0 487.1 186.9 488.5 183.8C489.9 180.6 491.4 177.5 492.9 174.3C494.4 171.2 496.0 168.0 497.6 164.9C499.3 161.8 501.0 158.7 502.7 155.6C504.5 152.6 506.3 149.5 508.1 146.5C510.0 143.5 511.9 140.5 513.8 137.6C515.7 134.7 517.7 131.8 519.7 129.0C521.7 126.2 523.7 123.4 525.7 120.7C527.8 118.0 529.9 115.4 532.0 112.9C534.0 110.3 536.2 107.8 538.3 105.5C540.4 103.1 542.5 100.8 544.7 98.6C546.8 96.3 548.9 94.2 551.1 92.2C553.2 90.2 555.3 88.3 557.4 86.5C559.5 84.7 561.6 83.0 563.7 81.5C565.8 79.9 567.8 78.5 569.9 77.2C571.9 75.9 573.9 74.7 575.8 73.6C577.8 72.6 579.7 71.6 581.6 70.9C583.4 70.1 585.2 69.4 587.0 68.9C588.8 68.4 590.5 68.1 592.1 67.9C593.8 67.7 595.4 67.6 596.9 67.7C598.4 67.7 599.8 68.0 601.2 68.3C602.6 68.7 603.9 69.2 605.1 69.8C606.3 70.5 607.5 71.2 608.5 72.2C609.6 73.1 610.5 74.1 611.4 75.3C612.3 76.5 613.1 77.8 613.8 79.2C614.5 80.7 615.1 82.2 615.6 83.9C616.2 85.6 616.6 87.3 616.9 89.2C617.3 91.1 617.5 93.1 617.7 95.2C617.9 97.3 617.9 99.5 617.9 101.8Z" fill="none" stroke="#000" stroke-width="1.7"/>
<path d="M587.81 132.74C587.8 134.1 587.8 135.6 587.6 137.1C587.5 138.6 587.4 140.2 587.1 141.8C586.9 143.4 586.6 145.1 586.3 146.8C585.9 148.5 585.5 150.2 585.1 152.0C584.6 153.8 584.1 155.6 583.6 157.4C583.0 159.2 582.4 161.1 581.7 163.0C581.1 164.8 580.4 166.7 579.6 168.6C578.9 170.5 578.1 172.4 577.2 174.3C576.4 176.2 575.5 178.2 574.6 180.1C573.7 182.0 572.7 183.9 571.7 185.8C570.7 187.7 569.7 189.5 568.7 191.4C567.6 193.3 566.5 195.1 565.4 196.9C564.3 198.8 563.1 200.6 562.0 202.3C560.8 204.1 559.6 205.8 558.4 207.5C557.2 209.2 556.0 210.9 554.8 212.5C553.5 214.1 552.3 215.7 551.0 217.2C549.8 218.7 548.5 220.2 547.2 221.6C546.0 223.1 544.7 224.5 543.4 225.8C542.1 227.1 540.8 228.3 539.6 229.5C538.3 230.7 537.0 231.8 535.7 232.9C534.5 234.0 533.2 235.0 532.0 235.9C530.7 236.8 529.5 237.6 528.3 238.4C527.1 239.2 525.9 239.9 524.7 240.5C523.6 241.1 522.4 241.6 521.3 242.1C520.2 242.5 519.1 242.9 518.0 243.2C517.0 243.5 515.9 243.7 514.9 243.8C514.0 243.9 513.0 243.9 512.1 243.9C511.2 243.8 510.3 243.7 509.5 243.5C508.6 243.3 507.9 242.9 507.1 242.6C506.4 242.2 505.7 241.7 505.0 241.1C504.4 240.6 503.8 239.9 503.3 239.2C502.7 238.5 502.2 237.7 501.8 236.8C501.4 236.0 501.0 235.0 500.6 234.0C500.3 233.0 500.0 231.9 499.8 230.8C499.6 229.6 499.4 228.4 499.3 227.1C499.2 225.8 499.2 224.5 499.2 223.1C499.2 221.7 499.2 220.2 499.3 218.7C499.5 217.2 499.6 215.7 499.8 214.1C500.1 212.5 500.3 210.8 500.7 209.1C501.0 207.4 501.4 205.7 501.8 204.0C502.3 202.2 502.8 200.4 503.3 198.6C503.8 196.8 504.4 194.9 505.1 193.1C505.7 191.2 506.4 189.3 507.1 187.4C507.9 185.5 508.6 183.6 509.5 181.7C510.3 179.8 511.2 177.9 512.1 175.9C513.0 174.0 513.9 172.1 514.9 170.2C515.9 168.3 516.9 166.4 518.0 164.5C519.0 162.6 520.1 160.8 521.2 158.9C522.4 157.1 523.5 155.3 524.7 153.5C525.8 151.7 527.0 150.0 528.3 148.3C529.5 146.6 530.7 144.9 531.9 143.3C533.2 141.7 534.4 140.1 535.7 138.5C537.0 137.0 538.3 135.5 539.5 134.1C540.8 132.7 542.1 131.3 543.4 130.0C544.7 128.7 546.0 127.5 547.3 126.3C548.5 125.2 549.8 124.0 551.1 123.0C552.3 122.0 553.6 121.0 554.8 120.1C556.1 119.2 557.3 118.4 558.5 117.6C559.7 116.9 560.9 116.2 562.0 115.6C563.2 115.0 564.3 114.5 565.5 114.1C566.6 113.6 567.6 113.3 568.7 113.0C569.8 112.7 570.8 112.5 571.8 112.4C572.7 112.3 573.7 112.3 574.6 112.3C575.5 112.4 576.4 112.5 577.2 112.7C578.1 112.9 578.9 113.2 579.6 113.6C580.4 114.0 581.1 114.4 581.7 114.9C582.4 115.5 583.0 116.1 583.5 116.8C584.1 117.5 584.6 118.3 585.0 119.1C585.5 120.0 585.9 120.9 586.2 121.9C586.6 122.9 586.9 124.0 587.1 125.1C587.3 126.2 587.5 127.5 587.6 128.7C587.7 130.0 587.8 131.3 587.8 132.7Z" fill="none" stroke="#000" stroke-width="1.7"/>
</g>
<g>
<path d="M931.70 250.65C931.6 252.6 931.4 254.5 931.2 256.3C931.0 258.2 930.7 259.9 930.3 261.6C930.0 263.3 929.6 265.0 929.1 266.5C928.6 268.1 928.1 269.6 927.5 271.0C927.0 272.4 926.3 273.8 925.7 275.1C925.0 276.3 924.3 277.6 923.5 278.7C922.7 279.8 921.8 280.9 921.0 281.9C920.1 282.8 919.1 283.7 918.1 284.5C917.1 285.3 916.1 286.0 915.0 286.7C913.8 287.3 912.7 287.8 911.5 288.2C910.3 288.6 909.0 289.0 907.7 289.2C906.4 289.4 905.0 289.5 903.6 289.5C902.2 289.5 900.7 289.3 899.2 289.1C897.7 288.8 896.2 288.4 894.6 287.9C893.1 287.5 891.5 286.8 889.8 286.1C888.2 285.4 886.5 284.5 884.9 283.5C883.2 282.6 881.5 281.5 879.8 280.3C878.1 279.1 876.4 277.8 874.7 276.3C873.0 274.9 871.3 273.4 869.6 271.8C867.9 270.2 866.3 268.5 864.6 266.7C863.0 264.9 861.3 263.0 859.7 261.1C858.1 259.2 856.5 257.2 854.9 255.1C853.4 253.1 851.8 250.9 850.4 248.8C848.9 246.6 847.4 244.4 846.0 242.1C844.6 239.9 843.2 237.6 841.9 235.3C840.5 232.9 839.2 230.6 838.0 228.2C836.7 225.8 835.5 223.4 834.4 221.0C833.2 218.6 832.1 216.2 831.0 213.7C830.0 211.3 828.9 208.9 828.0 206.4C827.0 203.9 826.1 201.5 825.2 199.0C824.3 196.6 823.5 194.1 822.8 191.6C822.0 189.2 821.3 186.7 820.7 184.3C820.0 181.9 819.5 179.5 819.0 177.1C818.5 174.7 818.0 172.3 817.6 170.0C817.3 167.6 817.0 165.3 816.8 163.1C816.5 160.8 816.4 158.6 816.3 156.5C816.3 154.3 816.3 152.2 816.4 150.2C816.5 148.2 816.6 146.2 816.9 144.4C817.2 142.5 817.5 140.7 817.9 139.0C818.4 137.3 818.9 135.7 819.5 134.2C820.0 132.7 820.7 131.3 821.5 130.0C822.2 128.7 823.0 127.5 823.9 126.4C824.8 125.4 825.7 124.4 826.8 123.5C827.8 122.7 828.9 121.9 830.0 121.3C831.2 120.7 832.4 120.2 833.6 119.8C834.8 119.4 836.1 119.1 837.5 118.9C838.8 118.7 840.2 118.7 841.6 118.7C843.0 118.7 844.5 118.9 845.9 119.1C847.4 119.3 848.9 119.6 850.5 120.1C852.0 120.5 853.5 121.0 855.1 121.6C856.7 122.2 858.3 122.9 859.9 123.7C861.5 124.5 863.1 125.3 864.8 126.3C866.4 127.2 868.1 128.3 869.7 129.4C871.4 130.5 873.0 131.7 874.7 133.0C876.4 134.3 878.1 135.7 879.8 137.2C881.4 138.6 883.1 140.2 884.8 141.8C886.5 143.4 888.1 145.1 889.8 146.9C891.5 148.7 893.1 150.6 894.7 152.5C896.4 154.5 898.0 156.5 899.6 158.6C901.2 160.7 902.7 162.9 904.2 165.1C905.7 167.3 907.2 169.6 908.7 172.0C910.1 174.3 911.5 176.7 912.8 179.2C914.2 181.6 915.4 184.1 916.7 186.6C917.9 189.1 919.0 191.6 920.1 194.2C921.2 196.7 922.2 199.3 923.2 201.8C924.1 204.3 925.0 206.9 925.8 209.4C926.6 211.9 927.3 214.5 927.9 216.9C928.5 219.4 929.1 221.9 929.6 224.3C930.1 226.7 930.4 229.0 930.8 231.4C931.1 233.7 931.3 235.9 931.5 238.1C931.7 240.3 931.8 242.5 931.8 244.6C931.8 246.7 931.8 248.7 931.7 250.7Z" fill="#a9cdf6" stroke="#3d8ce6" stroke-width="1.7"/>
<path d="M908.45 232.20C908.4 233.4 908.4 234.6 908.3 235.8C908.2 236.9 908.1 238.1 907.9 239.1C907.8 240.2 907.5 241.2 907.3 242.2C907.0 243.2 906.7 244.1 906.4 245.0C906.0 245.9 905.7 246.7 905.2 247.5C904.8 248.3 904.3 249.0 903.8 249.6C903.3 250.3 902.8 250.9 902.2 251.5C901.7 252.0 901.1 252.5 900.4 252.9C899.8 253.3 899.1 253.7 898.4 254.0C897.7 254.3 896.9 254.5 896.2 254.7C895.4 254.8 894.6 254.9 893.8 255.0C893.0 255.0 892.1 255.0 891.3 254.9C890.4 254.8 889.5 254.7 888.6 254.4C887.7 254.2 886.8 253.9 885.9 253.6C884.9 253.3 884.0 252.8 883.0 252.4C882.0 251.9 881.1 251.4 880.1 250.8C879.1 250.2 878.1 249.6 877.1 248.9C876.1 248.1 875.1 247.4 874.1 246.6C873.1 245.8 872.1 244.9 871.1 244.0C870.1 243.0 869.1 242.1 868.1 241.1C867.2 240.0 866.2 239.0 865.2 237.9C864.3 236.8 863.3 235.6 862.4 234.4C861.4 233.2 860.5 232.0 859.6 230.8C858.7 229.5 857.8 228.2 856.9 226.9C856.1 225.6 855.2 224.2 854.4 222.8C853.6 221.4 852.8 220.0 852.0 218.6C851.3 217.2 850.5 215.8 849.8 214.3C849.1 212.9 848.4 211.4 847.8 210.0C847.2 208.5 846.6 207.0 846.0 205.5C845.4 204.1 844.9 202.6 844.4 201.1C843.9 199.6 843.4 198.1 843.0 196.7C842.6 195.2 842.2 193.8 841.8 192.3C841.5 190.9 841.2 189.5 840.9 188.1C840.7 186.7 840.5 185.3 840.3 183.9C840.1 182.6 840.0 181.2 839.9 179.9C839.8 178.6 839.8 177.4 839.8 176.1C839.8 174.9 839.8 173.7 839.9 172.5C840.0 171.4 840.1 170.3 840.3 169.2C840.5 168.1 840.7 167.1 840.9 166.1C841.2 165.1 841.5 164.2 841.8 163.3C842.2 162.4 842.6 161.6 843.0 160.8C843.4 160.1 843.9 159.4 844.4 158.7C844.9 158.0 845.4 157.4 846.0 156.9C846.6 156.3 847.2 155.9 847.8 155.4C848.4 155.0 849.1 154.7 849.8 154.4C850.5 154.1 851.3 153.8 852.0 153.7C852.8 153.5 853.6 153.4 854.4 153.4C855.2 153.3 856.1 153.3 856.9 153.4C857.8 153.5 858.7 153.7 859.6 153.9C860.5 154.1 861.4 154.4 862.4 154.7C863.3 155.1 864.3 155.5 865.2 156.0C866.2 156.4 867.2 157.0 868.1 157.5C869.1 158.1 870.1 158.8 871.1 159.5C872.1 160.2 873.1 161.0 874.1 161.8C875.1 162.6 876.1 163.5 877.1 164.4C878.1 165.3 879.1 166.3 880.1 167.3C881.1 168.3 882.0 169.4 883.0 170.5C884.0 171.6 884.9 172.7 885.9 173.9C886.8 175.1 887.7 176.3 888.6 177.6C889.5 178.8 890.4 180.1 891.3 181.5C892.1 182.8 893.0 184.1 893.8 185.5C894.6 186.9 895.4 188.3 896.2 189.7C896.9 191.1 897.7 192.6 898.4 194.0C899.1 195.5 899.8 196.9 900.4 198.4C901.1 199.9 901.7 201.3 902.2 202.8C902.8 204.3 903.3 205.8 903.8 207.2C904.3 208.7 904.8 210.2 905.2 211.7C905.7 213.1 906.0 214.6 906.4 216.0C906.7 217.4 907.0 218.9 907.3 220.3C907.5 221.7 907.8 223.1 907.9 224.4C908.1 225.8 908.2 227.1 908.3 228.4C908.4 229.7 908.4 231.0 908.4 232.2Z" fill="rgb(74,152,246)" stroke="none"/>
<path d="M931.01 238.04C931.0 240.1 930.9 242.1 930.8 244.1C930.7 246.1 930.5 248.1 930.3 250.0C930.1 251.9 929.8 253.8 929.5 255.6C929.2 257.5 928.8 259.2 928.5 260.9C928.1 262.7 927.6 264.3 927.1 265.9C926.7 267.5 926.2 269.0 925.6 270.5C925.1 272.0 924.5 273.4 923.9 274.7C923.3 276.0 922.7 277.3 922.0 278.5C921.4 279.7 920.7 280.9 920.0 282.0C919.3 283.1 918.6 284.1 917.9 285.1C917.2 286.1 916.4 287.0 915.7 287.8C914.9 288.7 914.1 289.5 913.3 290.2C912.5 290.9 911.7 291.6 910.9 292.2C910.0 292.8 909.2 293.3 908.3 293.8C907.5 294.3 906.6 294.7 905.7 295.0C904.8 295.3 903.9 295.6 903.0 295.8C902.0 295.9 901.1 296.0 900.2 296.0C899.2 296.0 898.3 296.0 897.3 295.8C896.3 295.6 895.4 295.3 894.4 294.9C893.4 294.6 892.5 294.1 891.5 293.5C890.5 292.9 889.6 292.3 888.6 291.5C887.7 290.7 886.7 289.8 885.8 288.9C884.9 287.9 884.0 286.8 883.1 285.6C882.2 284.5 881.3 283.2 880.5 281.9C879.7 280.6 878.9 279.1 878.1 277.7C877.3 276.2 876.5 274.6 875.8 273.0C875.1 271.4 874.4 269.7 873.8 268.0C873.1 266.2 872.5 264.4 872.0 262.6C871.4 260.8 870.8 259.0 870.3 257.1C869.8 255.2 869.4 253.3 868.9 251.3C868.5 249.4 868.1 247.5 867.8 245.5C867.4 243.5 867.1 241.6 866.8 239.6C866.5 237.6 866.2 235.6 866.0 233.6C865.8 231.6 865.6 229.6 865.4 227.6C865.2 225.6 865.1 223.6 865.0 221.6C864.9 219.6 864.8 217.6 864.7 215.6C864.7 213.6 864.7 211.6 864.7 209.6C864.7 207.6 864.8 205.6 864.9 203.7C865.0 201.7 865.1 199.7 865.3 197.8C865.5 195.9 865.7 194.0 865.9 192.1C866.2 190.2 866.5 188.3 866.8 186.5C867.1 184.7 867.5 182.9 868.0 181.2C868.4 179.5 868.9 177.8 869.4 176.2C869.9 174.6 870.5 173.1 871.1 171.6C871.7 170.1 872.3 168.8 873.0 167.5C873.7 166.2 874.4 165.0 875.2 163.9C876.0 162.8 876.8 161.8 877.6 160.9C878.4 160.1 879.3 159.3 880.2 158.6C881.0 158.0 882.0 157.4 882.9 157.0C883.8 156.5 884.8 156.2 885.7 156.0C886.7 155.7 887.6 155.6 888.6 155.6C889.6 155.6 890.5 155.7 891.5 155.9C892.5 156.1 893.5 156.4 894.4 156.7C895.4 157.1 896.3 157.6 897.3 158.1C898.2 158.6 899.2 159.2 900.1 159.9C901.1 160.6 902.0 161.3 902.9 162.1C903.8 162.9 904.7 163.8 905.6 164.7C906.5 165.6 907.3 166.6 908.2 167.6C909.0 168.6 909.9 169.7 910.7 170.8C911.6 171.9 912.4 173.1 913.2 174.3C914.0 175.5 914.8 176.8 915.6 178.1C916.4 179.4 917.1 180.8 917.9 182.2C918.6 183.6 919.3 185.1 920.1 186.6C920.8 188.1 921.5 189.7 922.1 191.3C922.8 193.0 923.4 194.7 924.1 196.4C924.7 198.1 925.3 199.9 925.8 201.8C926.4 203.6 926.9 205.5 927.3 207.4C927.8 209.3 928.3 211.3 928.7 213.3C929.0 215.3 929.4 217.3 929.7 219.4C930.0 221.4 930.2 223.5 930.4 225.6C930.6 227.7 930.8 229.8 930.9 231.8C931.0 233.9 931.0 236.0 931.0 238.0Z" fill="rgb(245,125,135)" fill-opacity="0.6" stroke="rgba(215,60,80,0.75)" stroke-width="1.4"/>
<path d="M917.85 234.56C917.9 235.8 917.9 237.0 917.9 238.3C917.9 239.5 917.8 240.7 917.8 241.9C917.7 243.1 917.6 244.3 917.5 245.5C917.4 246.7 917.2 247.8 917.0 248.9C916.9 250.0 916.6 251.1 916.4 252.2C916.2 253.2 915.9 254.3 915.6 255.2C915.3 256.2 915.0 257.1 914.7 258.0C914.3 258.9 913.9 259.8 913.6 260.6C913.2 261.4 912.8 262.1 912.3 262.8C911.9 263.5 911.4 264.1 911.0 264.7C910.5 265.3 910.0 265.8 909.5 266.3C909.0 266.8 908.5 267.2 908.0 267.5C907.5 267.9 907.0 268.2 906.4 268.5C905.9 268.7 905.3 269.0 904.8 269.1C904.2 269.3 903.7 269.4 903.1 269.4C902.5 269.5 902.0 269.5 901.4 269.4C900.8 269.4 900.2 269.3 899.7 269.2C899.1 269.0 898.5 268.8 897.9 268.6C897.4 268.4 896.8 268.1 896.2 267.8C895.6 267.4 895.1 267.1 894.5 266.6C893.9 266.2 893.4 265.7 892.8 265.2C892.2 264.7 891.7 264.2 891.1 263.5C890.6 262.9 890.0 262.3 889.5 261.6C889.0 260.9 888.4 260.1 887.9 259.3C887.4 258.6 886.9 257.7 886.4 256.8C886.0 256.0 885.5 255.0 885.0 254.1C884.6 253.1 884.1 252.1 883.7 251.1C883.3 250.1 882.9 249.0 882.5 247.9C882.2 246.8 881.8 245.7 881.5 244.6C881.1 243.4 880.8 242.2 880.5 241.1C880.3 239.9 880.0 238.7 879.8 237.4C879.5 236.2 879.3 235.0 879.1 233.7C879.0 232.5 878.8 231.3 878.7 230.0C878.5 228.8 878.4 227.5 878.3 226.3C878.3 225.0 878.2 223.8 878.2 222.6C878.1 221.3 878.1 220.1 878.1 218.9C878.1 217.7 878.2 216.5 878.2 215.3C878.3 214.1 878.4 212.9 878.5 211.8C878.6 210.6 878.7 209.5 878.8 208.4C879.0 207.3 879.2 206.2 879.3 205.1C879.5 204.0 879.7 203.0 880.0 201.9C880.2 200.9 880.4 199.9 880.7 198.9C881.0 198.0 881.3 197.0 881.6 196.1C881.9 195.2 882.2 194.3 882.6 193.5C882.9 192.6 883.3 191.8 883.7 191.0C884.1 190.3 884.5 189.5 884.9 188.9C885.4 188.2 885.8 187.6 886.3 187.0C886.8 186.4 887.2 185.9 887.7 185.4C888.2 184.9 888.8 184.5 889.3 184.2C889.8 183.8 890.4 183.5 890.9 183.3C891.5 183.1 892.1 182.9 892.6 182.8C893.2 182.7 893.8 182.7 894.4 182.7C895.0 182.7 895.6 182.8 896.2 183.0C896.7 183.1 897.3 183.4 897.9 183.7C898.5 184.0 899.1 184.3 899.7 184.7C900.3 185.1 900.9 185.6 901.4 186.1C902.0 186.6 902.6 187.2 903.1 187.8C903.7 188.5 904.2 189.1 904.7 189.9C905.3 190.6 905.8 191.3 906.3 192.1C906.8 192.9 907.3 193.8 907.8 194.6C908.2 195.5 908.7 196.4 909.1 197.3C909.6 198.2 910.0 199.2 910.4 200.2C910.8 201.2 911.2 202.2 911.6 203.2C912.0 204.2 912.4 205.2 912.7 206.3C913.1 207.4 913.4 208.4 913.8 209.5C914.1 210.6 914.4 211.8 914.7 212.9C915.0 214.0 915.2 215.2 915.5 216.3C915.8 217.5 916.0 218.7 916.2 219.9C916.4 221.0 916.6 222.3 916.8 223.5C917.0 224.7 917.2 225.9 917.3 227.1C917.4 228.4 917.6 229.6 917.6 230.8C917.7 232.1 917.8 233.3 917.8 234.6Z" fill="rgb(240,42,52)" fill-opacity="0.85" stroke="none"/>
<path d="M957.49 229.93C957.4 232.7 957.2 235.3 956.9 237.9C956.6 240.5 956.2 243.0 955.7 245.3C955.2 247.7 954.6 250.0 954.0 252.2C953.3 254.4 952.6 256.4 951.7 258.4C950.9 260.4 950.0 262.2 949.0 264.0C948.0 265.7 947.0 267.4 945.9 268.9C944.8 270.5 943.6 271.9 942.3 273.2C941.1 274.6 939.8 275.8 938.4 276.9C937.0 278.0 935.6 279.0 934.1 279.9C932.6 280.8 931.1 281.6 929.5 282.2C927.9 282.9 926.2 283.5 924.5 283.9C922.8 284.3 921.1 284.6 919.3 284.8C917.5 285.0 915.6 285.1 913.7 285.0C911.8 284.9 909.9 284.8 907.9 284.4C905.9 284.1 903.9 283.6 901.8 283.0C899.8 282.4 897.7 281.6 895.6 280.7C893.4 279.8 891.3 278.8 889.1 277.6C887.0 276.4 884.8 275.1 882.6 273.6C880.4 272.1 878.2 270.5 876.1 268.8C873.9 267.0 871.7 265.2 869.6 263.2C867.4 261.1 865.2 259.0 863.1 256.8C861.0 254.5 858.9 252.1 856.9 249.7C854.9 247.2 852.8 244.6 850.9 242.0C848.9 239.3 847.0 236.6 845.2 233.8C843.3 231.0 841.5 228.1 839.8 225.1C838.1 222.2 836.4 219.2 834.8 216.2C833.2 213.2 831.7 210.1 830.2 207.0C828.7 203.9 827.3 200.8 826.0 197.6C824.7 194.5 823.5 191.3 822.3 188.2C821.1 185.0 820.0 181.8 819.0 178.7C818.0 175.5 817.0 172.4 816.1 169.2C815.3 166.1 814.5 162.9 813.7 159.8C813.0 156.7 812.4 153.6 811.8 150.5C811.2 147.5 810.7 144.4 810.3 141.4C809.9 138.4 809.6 135.4 809.3 132.5C809.1 129.6 808.9 126.7 808.8 123.9C808.8 121.0 808.8 118.2 808.9 115.5C809.0 112.8 809.2 110.1 809.4 107.6C809.7 105.0 810.1 102.5 810.6 100.1C811.0 97.7 811.6 95.4 812.3 93.2C812.9 91.0 813.7 88.8 814.6 86.9C815.4 84.9 816.4 83.0 817.4 81.3C818.5 79.5 819.6 77.9 820.9 76.5C822.1 75.0 823.4 73.7 824.8 72.5C826.3 71.3 827.8 70.3 829.3 69.5C830.9 68.6 832.5 67.9 834.2 67.3C835.9 66.8 837.7 66.4 839.5 66.1C841.4 65.9 843.3 65.8 845.2 65.8C847.1 65.9 849.1 66.1 851.1 66.4C853.1 66.8 855.1 67.3 857.2 67.9C859.3 68.5 861.3 69.3 863.5 70.2C865.6 71.1 867.7 72.1 869.8 73.3C871.9 74.4 874.1 75.7 876.2 77.0C878.3 78.4 880.5 79.9 882.6 81.5C884.8 83.0 886.9 84.7 889.0 86.5C891.1 88.3 893.2 90.2 895.3 92.2C897.4 94.1 899.5 96.2 901.6 98.4C903.7 100.5 905.7 102.8 907.7 105.1C909.8 107.4 911.8 109.8 913.7 112.3C915.7 114.8 917.6 117.4 919.5 120.0C921.5 122.7 923.3 125.4 925.1 128.2C927.0 131.0 928.7 133.9 930.5 136.8C932.2 139.8 933.9 142.8 935.5 145.8C937.1 148.8 938.6 151.9 940.1 155.1C941.5 158.2 942.9 161.4 944.2 164.6C945.6 167.8 946.8 171.1 947.9 174.3C949.1 177.5 950.1 180.8 951.1 184.0C952.0 187.3 952.9 190.5 953.6 193.7C954.3 196.9 955.0 200.1 955.5 203.2C956.1 206.4 956.5 209.5 956.8 212.5C957.1 215.6 957.4 218.5 957.5 221.4C957.6 224.3 957.6 227.2 957.5 229.9Z" fill="none" stroke="#000" stroke-width="1.7"/>
<path d="M927.36 209.67C927.4 211.4 927.3 213.1 927.2 214.7C927.1 216.3 927.0 217.9 926.7 219.4C926.5 221.0 926.2 222.4 925.8 223.8C925.5 225.2 925.1 226.5 924.6 227.8C924.1 229.1 923.6 230.2 923.0 231.4C922.4 232.5 921.7 233.5 921.0 234.4C920.3 235.4 919.6 236.3 918.8 237.1C918.0 237.9 917.2 238.6 916.3 239.2C915.4 239.9 914.5 240.4 913.5 240.9C912.5 241.4 911.5 241.8 910.5 242.1C909.5 242.4 908.4 242.6 907.3 242.8C906.2 243.0 905.1 243.1 904.0 243.1C902.8 243.1 901.7 243.0 900.5 242.9C899.3 242.7 898.1 242.5 896.9 242.2C895.6 241.9 894.4 241.6 893.1 241.1C891.9 240.7 890.6 240.2 889.3 239.6C888.0 239.1 886.7 238.4 885.4 237.7C884.1 236.9 882.8 236.1 881.5 235.3C880.2 234.4 878.9 233.5 877.6 232.5C876.3 231.4 874.9 230.4 873.6 229.2C872.3 228.0 871.0 226.8 869.7 225.5C868.4 224.2 867.1 222.9 865.9 221.4C864.6 220.0 863.4 218.5 862.1 217.0C860.9 215.4 859.7 213.8 858.5 212.2C857.4 210.5 856.2 208.8 855.1 207.1C854.0 205.3 853.0 203.5 851.9 201.7C850.9 199.9 849.9 198.0 849.0 196.2C848.1 194.3 847.2 192.4 846.3 190.4C845.5 188.5 844.7 186.6 843.9 184.6C843.2 182.7 842.5 180.7 841.9 178.8C841.3 176.9 840.7 174.9 840.2 173.0C839.6 171.0 839.2 169.1 838.8 167.2C838.3 165.3 838.0 163.4 837.7 161.6C837.4 159.7 837.1 157.9 837.0 156.1C836.8 154.3 836.6 152.5 836.6 150.8C836.5 149.0 836.4 147.3 836.5 145.7C836.5 144.0 836.6 142.4 836.7 140.8C836.8 139.2 837.0 137.7 837.2 136.2C837.5 134.7 837.7 133.3 838.1 131.9C838.4 130.5 838.8 129.1 839.2 127.8C839.6 126.6 840.1 125.3 840.6 124.2C841.2 123.0 841.7 121.9 842.4 120.9C843.0 119.8 843.7 118.8 844.4 117.9C845.1 117.0 845.9 116.2 846.7 115.4C847.5 114.7 848.4 114.0 849.3 113.4C850.2 112.8 851.2 112.3 852.2 111.9C853.2 111.5 854.2 111.1 855.3 110.9C856.3 110.6 857.5 110.5 858.6 110.4C859.8 110.3 860.9 110.4 862.1 110.5C863.3 110.6 864.6 110.8 865.8 111.1C867.1 111.4 868.4 111.8 869.7 112.3C871.0 112.8 872.3 113.4 873.6 114.1C874.9 114.7 876.2 115.5 877.5 116.3C878.9 117.1 880.2 118.1 881.5 119.0C882.8 120.0 884.2 121.1 885.5 122.2C886.8 123.3 888.1 124.5 889.4 125.8C890.7 127.1 891.9 128.4 893.2 129.8C894.5 131.1 895.7 132.6 896.9 134.0C898.1 135.5 899.3 137.0 900.5 138.6C901.7 140.2 902.8 141.8 903.9 143.4C905.1 145.1 906.1 146.8 907.2 148.5C908.3 150.2 909.3 151.9 910.3 153.7C911.3 155.5 912.3 157.3 913.2 159.1C914.1 160.9 915.0 162.8 915.9 164.6C916.8 166.5 917.6 168.4 918.4 170.3C919.1 172.2 919.9 174.1 920.6 176.0C921.3 177.9 921.9 179.8 922.5 181.8C923.1 183.7 923.7 185.6 924.2 187.5C924.7 189.4 925.1 191.4 925.5 193.3C925.9 195.1 926.2 197.0 926.5 198.9C926.7 200.7 927.0 202.6 927.1 204.4C927.2 206.2 927.3 207.9 927.4 209.7Z" fill="none" stroke="#000" stroke-width="1.7"/>
</g>
<rect x="83" y="0.5" width="299" height="369.5" fill="none" stroke="#000" stroke-width="2"/>
<rect x="408" y="0.5" width="299" height="369.5" fill="none" stroke="#000" stroke-width="2"/>
<rect x="733" y="0.5" width="299" height="369.5" fill="none" stroke="#000" stroke-width="2"/>
<path d="M83 353.33h8.3M382 353.33h-8.3M83 336.55h4.1M382 336.55h-4.1M83 319.78h4.1M382 319.78h-4.1M83 303.00h4.1M382 303.00h-4.1M83 286.23h8.3M382 286.23h-8.3M83 269.45h4.1M382 269.45h-4.1M83 252.68h4.1M382 252.68h-4.1M83 235.90h4.1M382 235.90h-4.1M83 219.13h8.3M382 219.13h-8.3M83 202.35h4.1M382 202.35h-4.1M83 185.58h4.1M382 185.58h-4.1M83 168.80h4.1M382 168.80h-4.1M83 152.03h8.3M382 152.03h-8.3M83 135.25h4.1M382 135.25h-4.1M83 118.48h4.1M382 118.48h-4.1M83 101.71h4.1M382 101.71h-4.1M83 84.93h8.3M382 84.93h-8.3M83 68.15h4.1M382 68.15h-4.1M83 51.38h4.1M382 51.38h-4.1M83 34.60h4.1M382 34.60h-4.1M83 17.83h8.3M382 17.83h-8.3M92.33 370v-4.1M92.33 0.5v4.1M102.05 370v-4.1M102.05 0.5v4.1M111.77 370v-8.3M111.77 0.5v8.3M121.49 370v-4.1M121.49 0.5v4.1M131.21 370v-4.1M131.21 0.5v4.1M140.92 370v-4.1M140.92 0.5v4.1M150.64 370v-4.1M150.64 0.5v4.1M160.36 370v-8.3M160.36 0.5v8.3M170.08 370v-4.1M170.08 0.5v4.1M179.80 370v-4.1M179.80 0.5v4.1M189.51 370v-4.1M189.51 0.5v4.1M199.23 370v-4.1M199.23 0.5v4.1M208.95 370v-8.3M208.95 0.5v8.3M218.67 370v-4.1M218.67 0.5v4.1M228.39 370v-4.1M228.39 0.5v4.1M238.10 370v-4.1M238.10 0.5v4.1M247.82 370v-4.1M247.82 0.5v4.1M257.54 370v-8.3M257.54 0.5v8.3M267.26 370v-4.1M267.26 0.5v4.1M276.98 370v-4.1M276.98 0.5v4.1M286.69 370v-4.1M286.69 0.5v4.1M296.41 370v-4.1M296.41 0.5v4.1M306.13 370v-8.3M306.13 0.5v8.3M315.85 370v-4.1M315.85 0.5v4.1M325.57 370v-4.1M325.57 0.5v4.1M335.28 370v-4.1M335.28 0.5v4.1M345.00 370v-4.1M345.00 0.5v4.1M354.72 370v-8.3M354.72 0.5v8.3M364.44 370v-4.1M364.44 0.5v4.1M374.16 370v-4.1M374.16 0.5v4.1M408 353.33h8.3M707 353.33h-8.3M408 336.55h4.1M707 336.55h-4.1M408 319.78h4.1M707 319.78h-4.1M408 303.00h4.1M707 303.00h-4.1M408 286.23h8.3M707 286.23h-8.3M408 269.45h4.1M707 269.45h-4.1M408 252.68h4.1M707 252.68h-4.1M408 235.90h4.1M707 235.90h-4.1M408 219.13h8.3M707 219.13h-8.3M408 202.35h4.1M707 202.35h-4.1M408 185.58h4.1M707 185.58h-4.1M408 168.80h4.1M707 168.80h-4.1M408 152.03h8.3M707 152.03h-8.3M408 135.25h4.1M707 135.25h-4.1M408 118.48h4.1M707 118.48h-4.1M408 101.71h4.1M707 101.71h-4.1M408 84.93h8.3M707 84.93h-8.3M408 68.15h4.1M707 68.15h-4.1M408 51.38h4.1M707 51.38h-4.1M408 34.60h4.1M707 34.60h-4.1M408 17.83h8.3M707 17.83h-8.3M421.58 370v-4.1M421.58 0.5v4.1M434.86 370v-4.1M434.86 0.5v4.1M448.14 370v-4.1M448.14 0.5v4.1M461.42 370v-4.1M461.42 0.5v4.1M474.70 370v-8.3M474.70 0.5v8.3M487.98 370v-4.1M487.98 0.5v4.1M501.26 370v-4.1M501.26 0.5v4.1M514.54 370v-4.1M514.54 0.5v4.1M527.82 370v-4.1M527.82 0.5v4.1M541.10 370v-8.3M541.10 0.5v8.3M554.38 370v-4.1M554.38 0.5v4.1M567.66 370v-4.1M567.66 0.5v4.1M580.94 370v-4.1M580.94 0.5v4.1M594.22 370v-4.1M594.22 0.5v4.1M607.50 370v-8.3M607.50 0.5v8.3M620.78 370v-4.1M620.78 0.5v4.1M634.06 370v-4.1M634.06 0.5v4.1M647.34 370v-4.1M647.34 0.5v4.1M660.62 370v-4.1M660.62 0.5v4.1M673.90 370v-8.3M673.90 0.5v8.3M687.18 370v-4.1M687.18 0.5v4.1M700.46 370v-4.1M700.46 0.5v4.1M733 353.33h8.3M1032 353.33h-8.3M733 336.55h4.1M1032 336.55h-4.1M733 319.78h4.1M1032 319.78h-4.1M733 303.00h4.1M1032 303.00h-4.1M733 286.23h8.3M1032 286.23h-8.3M733 269.45h4.1M1032 269.45h-4.1M733 252.68h4.1M1032 252.68h-4.1M733 235.90h4.1M1032 235.90h-4.1M733 219.13h8.3M1032 219.13h-8.3M733 202.35h4.1M1032 202.35h-4.1M733 185.58h4.1M1032 185.58h-4.1M733 168.80h4.1M1032 168.80h-4.1M733 152.03h8.3M1032 152.03h-8.3M733 135.25h4.1M1032 135.25h-4.1M733 118.48h4.1M1032 118.48h-4.1M733 101.71h4.1M1032 101.71h-4.1M733 84.93h8.3M1032 84.93h-8.3M733 68.15h4.1M1032 68.15h-4.1M733 51.38h4.1M1032 51.38h-4.1M733 34.60h4.1M1032 34.60h-4.1M733 17.83h8.3M1032 17.83h-8.3M739.58 370v-4.1M739.58 0.5v4.1M746.12 370v-4.1M746.12 0.5v4.1M752.66 370v-4.1M752.66 0.5v4.1M759.20 370v-4.1M759.20 0.5v4.1M765.74 370v-4.1M765.74 0.5v4.1M772.28 370v-4.1M772.28 0.5v4.1M778.82 370v-4.1M778.82 0.5v4.1M785.36 370v-4.1M785.36 0.5v4.1M791.90 370v-8.3M791.90 0.5v8.3M798.44 370v-4.1M798.44 0.5v4.1M804.98 370v-4.1M804.98 0.5v4.1M811.52 370v-4.1M811.52 0.5v4.1M818.06 370v-4.1M818.06 0.5v4.1M824.60 370v-4.1M824.60 0.5v4.1M831.14 370v-4.1M831.14 0.5v4.1M837.68 370v-4.1M837.68 0.5v4.1M844.22 370v-4.1M844.22 0.5v4.1M850.76 370v-4.1M850.76 0.5v4.1M857.30 370v-8.3M857.30 0.5v8.3M863.84 370v-4.1M863.84 0.5v4.1M870.38 370v-4.1M870.38 0.5v4.1M876.92 370v-4.1M876.92 0.5v4.1M883.46 370v-4.1M883.46 0.5v4.1M890.00 370v-4.1M890.00 0.5v4.1M896.54 370v-4.1M896.54 0.5v4.1M903.08 370v-4.1M903.08 0.5v4.1M909.62 370v-4.1M909.62 0.5v4.1M916.16 370v-4.1M916.16 0.5v4.1M922.70 370v-8.3M922.70 0.5v8.3M929.24 370v-4.1M929.24 0.5v4.1M935.78 370v-4.1M935.78 0.5v4.1M942.32 370v-4.1M942.32 0.5v4.1M948.86 370v-4.1M948.86 0.5v4.1M955.40 370v-4.1M955.40 0.5v4.1M961.94 370v-4.1M961.94 0.5v4.1M968.48 370v-4.1M968.48 0.5v4.1M975.02 370v-4.1M975.02 0.5v4.1M981.56 370v-4.1M981.56 0.5v4.1M988.10 370v-8.3M988.10 0.5v8.3M994.64 370v-4.1M994.64 0.5v4.1M1001.18 370v-4.1M1001.18 0.5v4.1M1007.72 370v-4.1M1007.72 0.5v4.1M1014.26 370v-4.1M1014.26 0.5v4.1M1020.80 370v-4.1M1020.80 0.5v4.1M1027.34 370v-4.1M1027.34 0.5v4.1" stroke="#000" stroke-width="1.8" fill="none"/>
<text x="112.2" y="394" font-size="19" text-anchor="middle">12.0</text>
<text x="160.6" y="394" font-size="19" text-anchor="middle">12.5</text>
<text x="209.3" y="394" font-size="19" text-anchor="middle">13.0</text>
<text x="258" y="394" font-size="19" text-anchor="middle">13.5</text>
<text x="306.6" y="394" font-size="19" text-anchor="middle">14.0</text>
<text x="355.2" y="394" font-size="19" text-anchor="middle">14.5</text>
<text x="411.8" y="394" font-size="19" text-anchor="middle">60</text>
<text x="477" y="394" font-size="19" text-anchor="middle">65</text>
<text x="542.3" y="394" font-size="19" text-anchor="middle">70</text>
<text x="607.9" y="394" font-size="19" text-anchor="middle">75</text>
<text x="673.3" y="394" font-size="19" text-anchor="middle">80</text>
<text x="791.8" y="394" font-size="19" text-anchor="middle">0.10</text>
<text x="856.5" y="394" font-size="19" text-anchor="middle">0.11</text>
<text x="922.5" y="394" font-size="19" text-anchor="middle">0.12</text>
<text x="987.9" y="394" font-size="19" text-anchor="middle">0.13</text>
<text x="74.6" y="24.73" font-size="19" text-anchor="end">1.02</text>
<text x="74.6" y="91.83" font-size="19" text-anchor="end">1.00</text>
<text x="74.6" y="158.93" font-size="19" text-anchor="end">0.98</text>
<text x="74.6" y="226.03" font-size="19" text-anchor="end">0.96</text>
<text x="74.6" y="293.13" font-size="19" text-anchor="end">0.94</text>
<text x="74.6" y="360.23" font-size="19" text-anchor="end">0.92</text>
<text x="187.3" y="424.6" font-size="23">D<tspan font-size="16" dy="6">V</tspan><tspan dy="-6">(0.57) / r</tspan><tspan font-size="16" dy="6">s</tspan></text>
<text x="558.5" y="424.6" font-size="23.5">H<tspan font-size="16.5" dy="6">0</tspan></text>
<text x="872" y="424.7" font-size="22.3"><tspan font-family="'Liberation Serif', serif" font-size="26">&#937;</tspan><tspan font-size="16.5" dy="6.5">c</tspan><tspan dy="-6.5" dx="-0.1">h</tspan><tspan font-size="15" dy="-7">2</tspan></text>
<text transform="translate(13.7 192) rotate(-90)" font-size="26">n<tspan font-size="18.5" dy="6.3">s</tspan></text>
<rect x="764.4" y="289.9" width="24" height="12.9" fill="#fff" stroke="#000" stroke-width="2"/>
<rect x="764.4" y="311.6" width="24" height="12.9" fill="#8ec0fa" stroke="#3c8ceb" stroke-width="1.8"/>
<rect x="764.4" y="333.5" width="24" height="12.9" fill="#fc9898" stroke="#eb4652" stroke-width="1.8"/>
<text x="799" y="302.8" font-size="18.8">WMAP</text>
<text x="799" y="325" font-size="18.8">CMB</text>
<text x="799" y="347" font-size="18.8">CMB+BAO</text>
</svg></body></html>
